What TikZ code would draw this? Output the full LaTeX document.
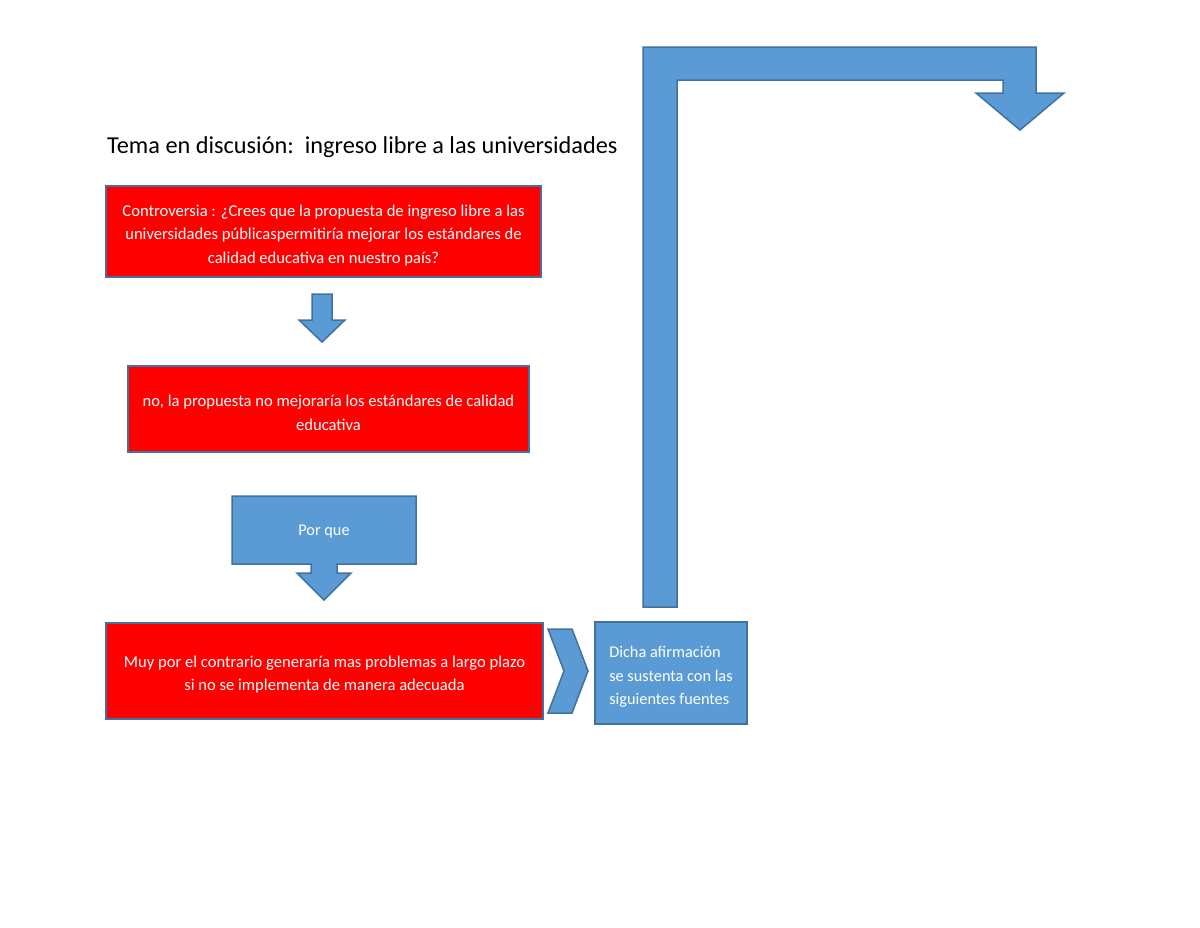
\documentclass[tikz,border=0pt]{standalone}
\usepackage{fontspec}
\setmainfont{Carlito}
\usepackage{xcolor}
\definecolor{BoxBlue}{HTML}{5B9BD5}
\definecolor{EdgeBlue}{HTML}{41719C}
\newcommand{\topstrut}{\rule{0pt}{19pt}}

\begin{document}
\begin{tikzpicture}[x=1pt,y=-1pt]
    \tikzset{RedBox/.style={draw=EdgeBlue, line width=1.5pt, fill=red, text=white,
        align=center, inner sep=0pt, font=\fontsize{16.6}{23.5}\selectfont},
      BlueShape/.style={draw=EdgeBlue, line width=1.5pt, fill=BoxBlue, line join=miter}}
    \useasboundingbox (0,0) rectangle (1200,927);
    \node[anchor=base west, inner sep=0pt, font=\fontsize{24.3}{28}\selectfont] (Tema) at (107,153)
      {Tema en discusión:\ \ ingreso libre a las universidades};
    \node[RedBox, minimum width=435, minimum height=91] (Controversia) at (323.5,231.5)
      {\topstrut Controversia : ¿Crees que la propuesta de ingreso libre a las\\
       universidades públicaspermitiría mejorar los estándares de\\
       calidad educativa en nuestro país?};
    % flecha hacia abajo
    \draw[BlueShape] (312,294) -- (332,294) -- (332,320) -- (345,320) -- (322,342)
      -- (299,320) -- (312,320) -- cycle;
    \node[RedBox, minimum width=401, minimum height=86] (Respuesta) at (328.5,409)
      {\topstrut no, la propuesta no mejoraría los estándares de calidad\\ educativa};
    \draw[BlueShape] (232,496) -- (416,496) -- (416,564) -- (337,564) -- (337,573)
      -- (351,573) -- (324,600) -- (297,573) -- (311,573) -- (311,564) -- (232,564) -- cycle;
    \node[text=white, font=\fontsize{16.3}{20}\selectfont] (PorQue) at (324,532) {Por que};
    \node[RedBox, minimum width=437, minimum height=96] (Contrario) at (324.5,671)
      {\topstrut Muy por el contrario generaría mas problemas a largo plazo\\
       si no se implementa de manera adecuada};
    % chevron
    \draw[BlueShape] (548,629) -- (572,629) -- (588,671) -- (572,713) -- (548,713)
      -- (564,671) -- cycle;
    \node[BlueShape, text=white, minimum width=152, minimum height=102, inner xsep=10pt,
      inner ysep=0pt, align=left, font=\fontsize{16.3}{23.5}\selectfont] (Fuentes) at (671,673)
      {\topstrut Dicha afirmación\\ se sustenta con las\\ siguientes fuentes};
    % flecha doblada
    \draw[BlueShape] (643,607) -- (643,47) -- (1036,47) -- (1036,93) -- (1064,93)
      -- (1020,130) -- (976,93) -- (1003,93) -- (1003,80) -- (677,80) -- (677,607) -- cycle;
\end{tikzpicture}
\end{document}
